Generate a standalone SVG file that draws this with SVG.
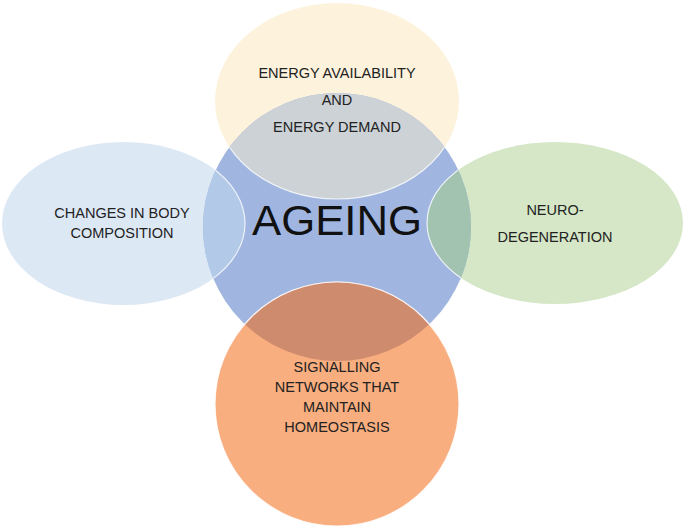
<svg xmlns="http://www.w3.org/2000/svg" width="685" height="528" viewBox="0 0 685 528">
<defs>
<style>
.lbl{font-family:"Liberation Sans",Arial,sans-serif;font-size:14.5px;fill:#222;text-anchor:middle}
.big{font-family:"Liberation Sans",Arial,sans-serif;font-size:42px;fill:#111;text-anchor:middle}
.edge{stroke:#ffffff;stroke-width:1.2;stroke-opacity:0.8}
</style>
<clipPath id="clipCore"><circle cx="337" cy="227" r="134"/></clipPath>
</defs>
<rect width="685" height="528" fill="#ffffff"/>
<g id="node-body">
<ellipse cx="123.5" cy="223.5" rx="121.5" ry="81.5" fill="#DDE8F5"/>
</g>
<g id="node-neuro">
<ellipse cx="555" cy="223" rx="128" ry="81" fill="#D5E7C6"/>
</g>
<g id="node-energy">
<ellipse cx="337" cy="101" rx="122" ry="98" fill="#FDF2DC"/>
</g>
<g id="node-ageing">
<circle cx="337" cy="227" r="134" fill="#A0B6E0"/>
<g clip-path="url(#clipCore)">
<ellipse cx="337" cy="101" rx="122" ry="98" fill="#CCD2D6" class="edge"/>
<ellipse cx="123.5" cy="223.5" rx="121.5" ry="81.5" fill="#B2C9E8" class="edge"/>
<ellipse cx="555" cy="223" rx="128" ry="81" fill="#A1C3B0" class="edge"/>
</g>
</g>
<g id="node-signalling">
<circle cx="337" cy="404" r="122" fill="#F9AE80" class="edge"/>
<g clip-path="url(#clipCore)">
<circle cx="337" cy="404" r="122" fill="#CF8B6D" class="edge"/>
</g>
</g>
<g id="connectors"></g>
<g id="labels">
<text class="big" x="337" y="235" textLength="170" lengthAdjust="spacingAndGlyphs">AGEING</text>
<text class="lbl" x="337" y="78">ENERGY AVAILABILITY</text>
<text class="lbl" x="337" y="105">AND</text>
<text class="lbl" x="337" y="132">ENERGY DEMAND</text>
<text class="lbl" x="122" y="218">CHANGES IN BODY</text>
<text class="lbl" x="122" y="238">COMPOSITION</text>
<text class="lbl" x="555" y="215">NEURO-</text>
<text class="lbl" x="555" y="242">DEGENERATION</text>
<text class="lbl" x="337" y="372">SIGNALLING</text>
<text class="lbl" x="337" y="392">NETWORKS THAT</text>
<text class="lbl" x="337" y="412">MAINTAIN</text>
<text class="lbl" x="337" y="432">HOMEOSTASIS</text>
</g>
</svg>
